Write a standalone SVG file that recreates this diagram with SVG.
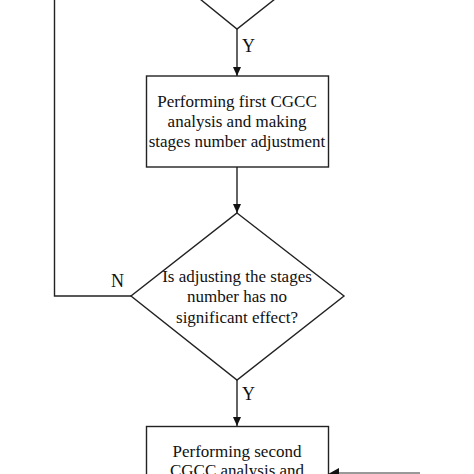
<svg xmlns="http://www.w3.org/2000/svg" width="474" height="474" viewBox="0 0 474 474">
<style>
.shape{fill:#fff;stroke:#222;stroke-width:1.4}
.conn{fill:none;stroke:#222;stroke-width:1.4}
text{font-family:"Liberation Serif","Times New Roman",serif;font-size:17px;fill:#111;text-anchor:middle}
.lbl{text-anchor:start;font-size:18px}
</style>
<defs>
<marker id="arr" markerWidth="10" markerHeight="10" refX="9" refY="5" orient="auto" markerUnits="userSpaceOnUse">
<path d="M0,1 L9,5 L0,9 Z" fill="#111"/>
</marker>
</defs>
<rect width="474" height="474" fill="#fff"/>
<g id="connectors">
<line class="conn" x1="237" y1="29" x2="237" y2="76" marker-end="url(#arr)"/>
<line class="conn" x1="237" y1="167" x2="237" y2="213" marker-end="url(#arr)"/>
<line class="conn" x1="237" y1="380" x2="237" y2="426" marker-end="url(#arr)"/>
<polyline class="conn" points="131,296 54.5,296 54.5,0"/>
<line x1="420" y1="474" x2="336" y2="474" stroke="#999" stroke-width="4"/>
<path d="M329,473.5 L339,468 L339,474 L329,474 Z" fill="#111"/>
<text class="lbl" x="242" y="52">Y</text>
<text class="lbl" x="111" y="287">N</text>
<text class="lbl" x="242" y="400">Y</text>
</g>
<g id="decision1">
<polygon class="shape" points="200,-1 237,29 275,-1"/>
</g>
<g id="process1">
<rect class="shape" x="146.5" y="76" width="182" height="91"/>
<text x="237" y="107">Performing first CGCC</text>
<text x="237" y="127">analysis and making</text>
<text x="237" y="147">stages number adjustment</text>
</g>
<g id="decision2">
<polygon class="shape" points="237,213 344,296 237,380 131,296"/>
<text x="237" y="282">Is adjusting the stages</text>
<text x="237" y="302">number has no</text>
<text x="237" y="323">significant effect?</text>
</g>
<g id="process2">
<rect class="shape" x="146.5" y="426.5" width="182" height="60"/>
<text x="237" y="457">Performing second</text>
<text x="237" y="476">CGCC analysis and</text>
</g>
</svg>
